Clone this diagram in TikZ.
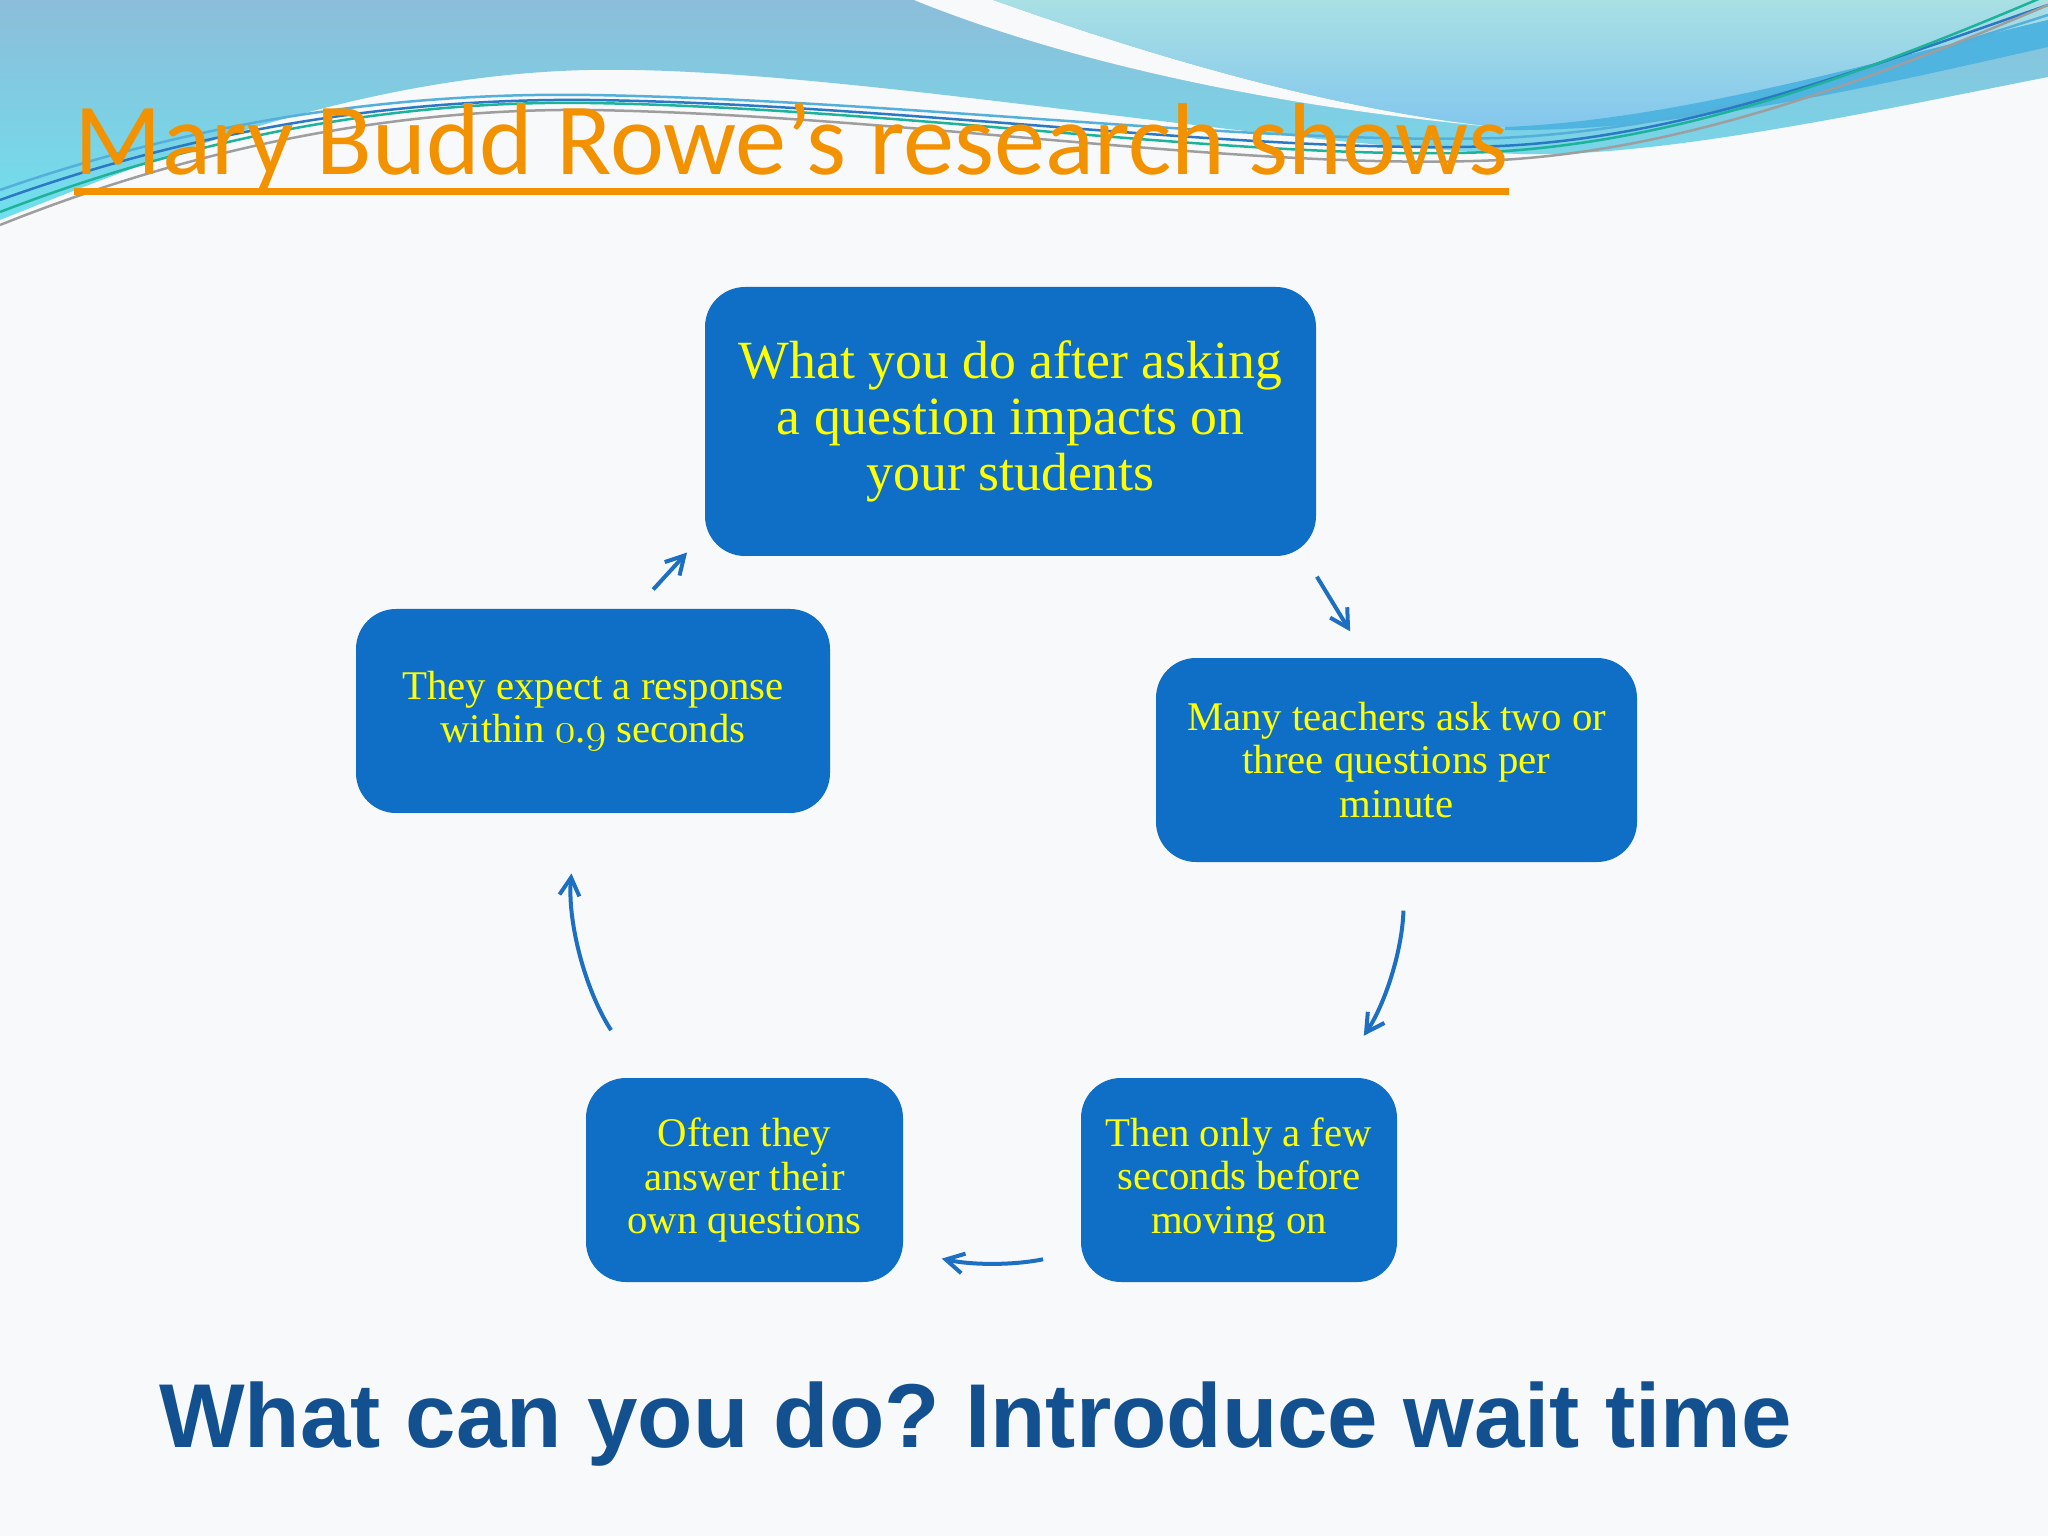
\documentclass[tikz,border=0pt]{standalone}
\usepackage{fontspec}
\setmainfont{Liberation Serif}
\newfontfamily\titlefont{Carlito}
\newfontfamily\footfont{Liberation Sans}
\usetikzlibrary{arrows.meta}
\definecolor{pagebg}{HTML}{F8F9FA}
\definecolor{boxblue}{HTML}{0F6FC6}
\definecolor{textyellow}{HTML}{FFFF00}
\definecolor{arrowblue}{HTML}{1D6FC2}
\definecolor{titleorange}{HTML}{F39200}
\definecolor{footblue}{HTML}{12508F}
\definecolor{waveblue}{HTML}{8CBDD9}
\definecolor{wavecyan}{HTML}{70E0EE}
\definecolor{paleaqua}{HTML}{A9E0E4}
\definecolor{skyblue}{HTML}{84C7EE}
\definecolor{bandblue}{HTML}{4FB4DF}
\definecolor{lineteal}{HTML}{1DB39A}
\definecolor{linegray}{HTML}{9E9E9E}
\definecolor{lineblue}{HTML}{2B78C5}
\definecolor{linelight}{HTML}{54B0DA}
\newcommand{\osnum}[1]{$\mathnormal{#1}$}
\frenchspacing
\begin{document}
\begin{tikzpicture}[box/.style={fill=boxblue, rounded corners=0.4cm, text=textyellow,
    align=center, inner sep=0pt, minimum height=2.04cm, font=\fontsize{11.6}{12.4}\selectfont},
  cyc/.style={draw=arrowblue, line width=0.04cm, -{Straight Barb[length=1.8mm, width=2mm]}},
  wline/.style={line width=0.025cm}]
  \useasboundingbox (0,0) rectangle (20.48,-15.36);
  \fill[pagebg] (0,0) rectangle (20.48,-15.36);
  % header waves
  \shade[top color=waveblue, bottom color=wavecyan] (0,0) -- (20.48,0) -- (20.48,-0.77)
    .. controls (18.8,-1.1) and (16.6,-1.58) .. (15.2,-1.54)
    .. controls (12.5,-1.45) and (8.3,-0.65) .. (5.88,-0.70)
    .. controls (3.6,-0.75) and (1.5,-1.6) .. (0,-2.20) -- cycle;
  \fill[pagebg] (9.14,0) .. controls (10.5,-0.55) and (12.5,-1.05) .. (15.05,-1.28)
    .. controls (13.2,-1.1) and (11.2,-0.45) .. (9.93,0) -- cycle;
  \shade[top color=paleaqua, bottom color=skyblue] (9.93,0)
    .. controls (11.2,-0.45) and (13.2,-1.1) .. (15.05,-1.27)
    .. controls (16.8,-1.2) and (18.8,-0.6) .. (20.48,-0.2) -- (20.48,0) -- cycle;
  \fill[bandblue] (15.05,-1.27) .. controls (16.8,-1.2) and (18.8,-0.6) .. (20.48,-0.2)
    -- (20.48,-0.47) .. controls (18.8,-0.85) and (16.8,-1.32) .. (15.05,-1.30) -- cycle;
  \draw[wline, linelight] (0,-1.9) .. controls (2.0,-1.2) and (4.0,-0.92) .. (5.9,-0.95)
    .. controls (9.0,-1.0) and (12.5,-1.45) .. (15.0,-1.38) .. controls (16.8,-1.3) and (18.6,-0.75) .. (20.48,-0.15);
  \draw[wline, lineblue] (0,-2.0) .. controls (2.0,-1.28) and (4.0,-0.98) .. (5.9,-1.0)
    .. controls (9.0,-1.04) and (12.5,-1.55) .. (15.0,-1.46) .. controls (16.8,-1.38) and (18.6,-0.7) .. (20.48,-0.05);
  \draw[wline, lineteal] (0,-2.12) .. controls (2.0,-1.35) and (4.0,-1.0) .. (5.9,-1.03)
    .. controls (9.0,-1.08) and (12.5,-1.62) .. (14.9,-1.52) .. controls (16.8,-1.42) and (18.6,-0.75) .. (20.48,0.05);
  \draw[wline, linegray] (0,-2.25) .. controls (2.0,-1.45) and (4.0,-1.08) .. (5.9,-1.1)
    .. controls (9.0,-1.15) and (12.5,-1.72) .. (15.0,-1.6) .. controls (16.8,-1.5) and (18.6,-0.85) .. (20.48,-0.05);

  \node[anchor=base west, inner sep=0pt, text=titleorange,
    font=\titlefont\fontsize{29.1}{30}\selectfont] (title) at (0.74,-1.75) {Mary Budd Rowe’s research shows};
  \draw[titleorange, line width=0.065cm] ([yshift=-0.165cm]title.base west) -- ([yshift=-0.165cm]title.base east);

  \node[box, minimum width=6.11cm, minimum height=2.69cm, font=\fontsize{15.3}{15.9}\selectfont]
    (ask) at (10.105,-4.215) {What you do after asking\\a question impacts on\\your students};
  \node[box, minimum width=4.81cm] (many) at (13.965,-7.60) {Many teachers ask two or\\three questions per\\minute};
  \node[box, minimum width=3.16cm] (few) at (12.39,-11.80) {Then only a few\\seconds before\\moving on};
  \node[box, minimum width=3.17cm] (own) at (7.445,-11.80) {Often they\\answer their\\own questions};
  \node[box, minimum width=4.74cm] (expect) at (5.93,-7.11) {They expect a response\\within \mbox{\osnum{0}.\osnum{9}} seconds};

  \draw[cyc, shorten <=0.234cm, shorten >=0.304cm] ([xshift=-0.12cm]ask.south east) -- ([xshift=-0.305cm]many.north);
  \draw[cyc, shorten <=0.48cm, shorten >=0.50cm] ([xshift=0.085cm]many.south) to[bend left=16] ([xshift=0.97cm]few.north);
  \draw[cyc, shorten <=0.38cm, shorten >=0.39cm] ([yshift=0.31cm]few.south west) to[bend left=12] ([yshift=0.325cm]own.south east);
  \draw[cyc, shorten <=0.56cm, shorten >=0.60cm] ([xshift=0.56cm]own.north west) to[bend left=19] ([xshift=-0.16cm]expect.south);
  \draw[cyc, shorten <=0.255cm, shorten >=0.255cm] ([xshift=0.43cm]expect.north) -- ([yshift=0.23cm]ask.south west);

  \node[anchor=base west, inner sep=0pt, text=footblue,
    font=\footfont\bfseries\fontsize{25.8}{30}\selectfont] (wait) at (1.585,-14.47) {What can you do? Introduce wait time};
\end{tikzpicture}
\end{document}
